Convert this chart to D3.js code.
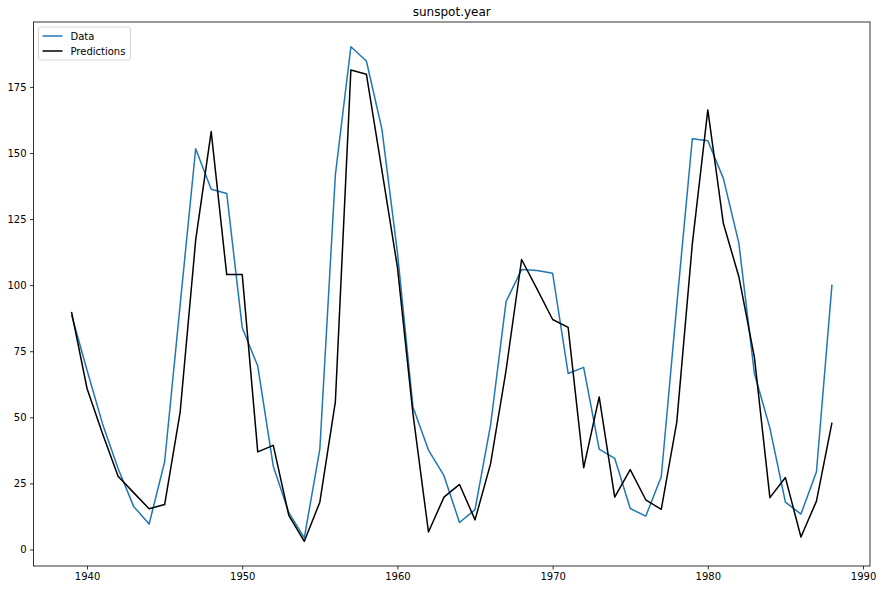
<!DOCTYPE html>
<html>
<head>
<meta charset="utf-8">
<script src="https://d3js.org/d3.v7.min.js"></script>
<style>
  body { margin: 0; background: #fff; }
  text { font-family: "DejaVu Sans", sans-serif; }
</style>
</head>
<body>
<div id="graph"></div>
<script>
// Years and series
var years = d3.range(1939, 1989);
var dataValues = [88.8, 67.8, 47.5, 30.6, 16.3, 9.6, 33.2, 92.6, 151.6, 136.3,
    134.7, 83.9, 69.4, 31.5, 13.9, 4.4, 38.0, 141.7, 190.2, 184.8,
    159.0, 112.3, 53.9, 37.6, 27.9, 10.2, 15.1, 47.0, 93.8, 105.9,
    105.5, 104.5, 66.6, 68.9, 38.0, 34.5, 15.5, 12.6, 27.5, 92.5,
    155.4, 154.6, 140.4, 115.9, 66.6, 45.9, 17.9, 13.4, 29.4, 100.2];
var predValues = [89.9, 60.9, 43.8, 27.7, 21.5, 15.4, 17.0, 52.0, 117.0, 158.1,
    104.0, 104.0, 36.9, 39.4, 12.9, 3.1, 17.9, 55.8, 181.4, 179.8,
    143.4, 106.8, 51.4, 6.6, 19.8, 24.6, 11.2, 32.4, 67.8, 109.7,
    98.5, 87.0, 84.0, 30.9, 57.7, 19.8, 30.2, 18.8, 15.2, 48.2,
    115.5, 166.3, 123.4, 103.2, 72.8, 19.6, 27.2, 4.7, 18.3, 48.0];
var xTicks = [1940, 1950, 1960, 1970, 1980, 1990];
var yTicks = [0, 25, 50, 75, 100, 125, 150, 175];

var series = [
    {name: 'Data', values: dataValues, color: '#1f77b4'},
    {name: 'Predictions', values: predValues, color: '#000000'}
];

// Graph dimensions
var W = 883, H = 590;
var margin = {top: 22, right: 13, bottom: 24, left: 33.5},
    width = W - margin.left - margin.right,
    height = H - margin.top - margin.bottom;

// Matplotlib-like 5% padding
var xPad = (1988 - 1939) * 0.05;
var allVals = dataValues.concat(predValues);
var yMin = d3.min(allVals), yMax = d3.max(allVals);
var yPad = (yMax - yMin) * 0.05;

var x = d3.scaleLinear().domain([1939 - xPad, 1988 + xPad]).range([0, width]),
    y = d3.scaleLinear().domain([yMin - yPad, yMax + yPad]).range([height, 0]);

var svg = d3.select('#graph')
    .append('svg')
    .attr('width', W)
    .attr('height', H);

var chart = svg.append('g')
    .attr('transform', 'translate(' + margin.left + ',' + margin.top + ')');

// Lines
var line = d3.line()
    .x(function(d, i) { return x(years[i]); })
    .y(function(d) { return y(d); });

series.forEach(function(s) {
    chart.append('path')
        .attr('fill', 'none')
        .attr('stroke', s.color)
        .attr('stroke-width', 1.5)
        .attr('stroke-linejoin', 'round')
        .attr('d', line(s.values));
});

// Axes
var xAxis = d3.axisBottom(x).tickValues(xTicks).tickFormat(d3.format('d'))
    .tickSize(3.5).tickPadding(3.5).tickSizeOuter(0);
var yAxis = d3.axisLeft(y).tickValues(yTicks).tickFormat(d3.format('d'))
    .tickSize(3.5).tickPadding(3.5).tickSizeOuter(0);

var gx = chart.append('g')
    .attr('transform', 'translate(0,' + height + ')')
    .call(xAxis);
var gy = chart.append('g').call(yAxis);

[gx, gy].forEach(function(g) {
    g.select('.domain').remove();
    g.selectAll('.tick line').attr('stroke', '#000').attr('stroke-width', 0.8);
    g.selectAll('.tick text').attr('fill', '#000').style('font-size', '10px')
        .style('font-family', '"DejaVu Sans", sans-serif');
});

// Frame
chart.append('rect')
    .attr('width', width)
    .attr('height', height)
    .attr('fill', 'none')
    .attr('stroke', '#000')
    .attr('stroke-width', 0.8);

// Title
svg.append('text')
    .attr('x', margin.left + width / 2)
    .attr('y', margin.top - 6)
    .attr('text-anchor', 'middle')
    .style('font-size', '12px')
    .text('sunspot.year');

// Legend
var legend = chart.append('g').attr('transform', 'translate(5,5)');
legend.append('rect')
    .attr('width', 92)
    .attr('height', 33)
    .attr('rx', 2)
    .attr('fill', '#fff')
    .attr('fill-opacity', 0.8)
    .attr('stroke', '#ccc')
    .attr('stroke-width', 0.8);

series.forEach(function(s, i) {
    var ly = 9 + i * 15;
    legend.append('line')
        .attr('x1', 4).attr('x2', 24)
        .attr('y1', ly).attr('y2', ly)
        .attr('stroke', s.color)
        .attr('stroke-width', 1.5);
    legend.append('text')
        .attr('x', 32)
        .attr('y', ly + 3.5)
        .style('font-size', '10px')
        .text(s.name);
});
</script>
</body>
</html>
